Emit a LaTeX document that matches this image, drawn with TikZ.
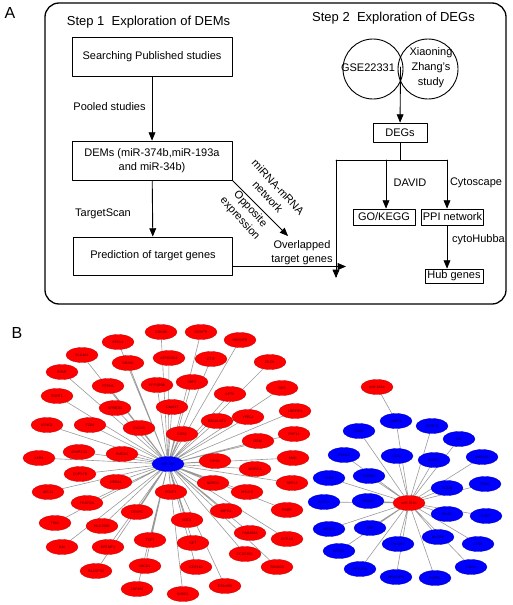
\documentclass[tikz,border=0pt]{standalone}
\usepackage{fontspec}
\setmainfont{Liberation Sans}
\usetikzlibrary{arrows,shapes.geometric}
\pgfdeclarelayer{bg}
\pgfsetlayers{bg,main}

\begin{document}
\begin{tikzpicture}[line cap=round,line join=round,>=triangle 45,x=1pt,y=-1pt,
		box/.style={draw,line width=0.9pt,align=center,font=\fontsize{11}{14}\selectfont},
		lbl/.style={align=center,font=\fontsize{11}{14}\selectfont},
		ttl/.style={font=\fontsize{13}{15}\selectfont},
		circ/.style={draw,circle,line width=0.9pt,minimum size=60pt,inner sep=0pt},
		rnode/.style={ellipse,fill=red,draw=red!75!black,line width=0.3pt,minimum width=32pt,minimum height=15pt,inner sep=0pt,font=\fontsize{3.5}{4}\selectfont,text=red!30!black},
		bnode/.style={ellipse,fill=blue,draw=blue!70!black,line width=0.3pt,minimum width=32pt,minimum height=15pt,inner sep=0pt,font=\fontsize{3.5}{4}\selectfont,text=blue!30!black},
		edge/.style={line width=0.6pt,color=gray!80}]
		\useasboundingbox (0,0) rectangle (513,605);
		\draw [line width=1.3pt,rounded corners=14pt] (45,3) rectangle (506,304);
		\node[font=\fontsize{16}{18}\selectfont] (panelA) at (10,13) {A};
		\node[font=\fontsize{16}{18}\selectfont] (panelB) at (17,333) {B};
		\node[ttl] (step1) at (148.5,22) {Step 1\ \ Exploration of DEMs};
		\node[ttl] (step2) at (393.5,18.5) {Step 2\ \ Exploration of DEGs};
		\node[box,minimum width=160pt,minimum height=39pt] (search) at (152,56.5) {Searching Published studies};
		\node[box,minimum width=160pt,minimum height=39pt] (dems) at (152,160.5) {DEMs (miR-374b,miR-193a\\and miR-34b)};
		\node[box,minimum width=159pt,minimum height=38pt] (pred) at (153,256) {Prediction of target genes};
		\node[lbl] (pooled) at (109.5,107) {Pooled studies};
		\node[lbl] (tscan) at (103,214) {TargetScan};
		\node[lbl,rotate=-47] (mirna) at (273,192) {miRNA-mRNA\\network};
		\node[lbl,rotate=-48] (oppo) at (245,214) {Opposite\\expression};
		\node[lbl] (overl) at (302,252.5) {Overlapped\\target genes};
		\coordinate (ovtip) at (288,236);
		\coordinate (predend) at (346,266.5);
		\draw[->,line width=0.9pt] (search) -- (dems);
		\draw[->,line width=0.9pt] (dems) -- (pred);
		\draw[->,line width=0.9pt] (dems.south east) -- (ovtip);
		\draw[->,line width=0.9pt] (pred.east |- predend) -- (predend);
		\node[circ] (gse) at (373,69) {};
		\node[circ] (xzs) at (428,69) {};
		\node[lbl] (gset) at (368,68) {GSE22331};
		\node[lbl,font=\fontsize{11}{15}\selectfont] (xzst) at (431,68) {Xiaoning\\Zhang's\\study};
		\coordinate (ovl) at (400.5,67);
		\node[box,minimum width=54pt,minimum height=19pt,inner sep=1pt] (degs) at (400,132.5) {DEGs};
		\node[box,minimum width=62pt,minimum height=16pt,inner sep=1pt] (gokegg) at (384,217) {GO/KEGG};
		\node[box,minimum width=61pt,minimum height=16pt,inner sep=1pt] (ppi) at (452.5,217) {PPI network};
		\node[box,minimum width=58pt,minimum height=14pt,inner sep=1pt] (hub) at (454,276) {Hub genes};
		\node[lbl] (david) at (410,183) {DAVID};
		\node[lbl] (cyto) at (476,183) {Cytoscape};
		\node[lbl] (cyhub) at (478.5,240) {cytoHubba};
		\coordinate (split) at (400,160);
		\coordinate (bl) at (336,160);
		\coordinate (bm) at (386,160);
		\coordinate (br) at (447,160);
		\coordinate (blend) at (336,278);
		\draw[->,line width=0.9pt] (ovl) -- (degs);
		\draw[line width=0.9pt] (degs) -- (split);
		\draw[line width=0.9pt] (bl) -- (br);
		\draw[->,line width=0.9pt] (bl) -- (blend);
		\draw[->,line width=0.9pt] (bm) -- (bm |- gokegg.north);
		\draw[->,line width=0.9pt] (br) -- (br |- ppi.north);
		\draw[->,line width=0.9pt] (br |- ppi.south) -- (br |- hub.north);
		\node[rnode] (gsk3b) at (161,332) {GSK3B};
		\node[rnode] (grhpr) at (201,332) {GRHPR};
		\node[rnode] (spdl1) at (118,342) {SPDL1};
		\node[rnode] (hnrnpd) at (240,340) {HNRNPD};
		\node[rnode] (slc4a4) at (82,355) {SLC4A4};
		\node[rnode] (atp6v0a1) at (169,358) {ATP6V0A1};
		\node[rnode] (snx30) at (128,363) {SNX30};
		\node[rnode] (ctif) at (211,359) {CTIF};
		\node[rnode] (glo1) at (270,362) {GLO1};
		\node[rnode] (bdnf) at (62,372) {BDNF};
		\node[rnode] (ptpn9) at (108,386) {PTPN9};
		\node[rnode] (ppp1r9b) at (157,385) {PPP1R9B};
		\node[rnode] (sbf2) at (192,382) {SBF2};
		\node[rnode] (aptx) at (230,394) {APTX};
		\node[rnode] (gk5) at (282,388) {GK5};
		\node[rnode] (sort1) at (57,396) {SORT1};
		\node[rnode] (spred1) at (115,408) {SPRED1};
		\node[rnode] (c4orf17) at (172,407) {C4orf17};
		\node[rnode] (b3galnt1) at (217,421) {B3GALNT1};
		\node[rnode] (ypel2) at (248,417) {YPEL2};
		\node[rnode] (lrrfip1) at (295,411) {LRRFIP1};
		\node[rnode] (ntng1) at (47,425) {NTNG1};
		\node[rnode] (fzd4) at (90,425) {FZD4};
		\node[rnode] (clcn3) at (139,428) {CLCN3};
		\node[rnode] (cds2) at (182,434) {CDS2};
		\node[rnode] (dgki) at (258,441) {DGKI};
		\node[rnode] (phf14) at (294,434) {PHF14};
		\node[rnode] (xkr4) at (39,458) {XKR4};
		\node[rnode] (anapc13) at (79,452) {ANAPC13};
		\node[rnode] (hmga2) at (122,454) {HMGA2};
		\node[bnode] (mir34b) at (168,464) {miR-34b};
		\node[rnode] (rps6) at (215,461) {RPS6};
		\node[rnode] (mak) at (293,458) {MAK};
		\node[rnode] (morc1) at (255,469) {MORC1};
		\node[rnode] (cops7b) at (80,474) {COPS7B};
		\node[rnode] (nr6a1) at (116,482) {NR6A1};
		\node[rnode] (ndrg1) at (213,483) {NDRG1};
		\node[rnode] (sppl3) at (292,483) {SPPL3};
		\node[rnode] (arl11) at (48,492) {ARL11};
		\node[rnode] (foxp1) at (171,492) {FOXP1};
		\node[rnode] (mylk3) at (247,492) {MYLK3};
		\node[rnode] (fcgr2a) at (87,503) {FCGR2A};
		\node[rnode] (prep) at (287,510) {PREP};
		\node[rnode] (cenpc) at (137,512) {CENPC};
		\node[rnode] (impg1) at (226,511) {IMPG1};
		\node[rnode] (trio) at (55,523) {TRIO};
		\node[rnode] (hladob) at (102,526) {HLA-DOB};
		\node[rnode] (nod1) at (187,520) {NOD1};
		\node[rnode] (fam168a) at (250,533) {FAM168A};
		\node[rnode] (dcp1a) at (287,539) {DCP1A};
		\node[rnode] (nin) at (62,547) {NIN};
		\node[rnode] (efemp1) at (108,547) {EFEMP1};
		\node[rnode] (tcf7) at (150,540) {TCF7};
		\node[rnode] (set) at (193,543) {SET};
		\node[rnode] (ccdc85c) at (245,554) {CCDC85C};
		\node[rnode] (txndc5) at (277,567) {TXNDC5};
		\node[rnode] (ralgps2) at (96,571) {RALGPS2};
		\node[rnode] (micu1) at (145,566) {MICU1};
		\node[rnode] (ccp110) at (196,567) {CCP110};
		\node[rnode] (znf480) at (137,589) {ZNF480};
		\node[rnode] (insig1) at (183,594) {INSIG1};
		\node[rnode] (c20orf96) at (225,586) {C20orf96};
		\node[rnode] (mir374b) at (409,503) {miR-374b};
		\node[rnode] (mir193a) at (377,387) {miR-193a};
		\node[bnode] (lmbr1) at (396,421) {LMBR1};
		\node[bnode] (pcbp2) at (432,426) {PCBP2};
		\node[bnode] (dab2) at (359,431) {DAB2};
		\node[bnode] (cic) at (459,439) {CIC};
		\node[bnode] (prkce) at (344,455) {PRKCE};
		\node[bnode] (acsl1) at (397,456) {ACSL1};
		\node[bnode] (znrf3) at (434,460) {ZNRF3};
		\node[bnode] (map3k2) at (482,457) {MAP3K2};
		\node[bnode] (tlr4) at (329,478) {TLR4};
		\node[bnode] (tspan5) at (369,476) {TSPAN5};
		\node[bnode] (rgmb) at (447,488) {RGMB};
		\node[bnode] (trim2) at (485,484) {TRIM2};
		\node[bnode] (actc1) at (324,502) {ACTC1};
		\node[bnode] (pank3) at (368,501) {PANK3};
		\node[bnode] (wnk1) at (447,514) {WNK1};
		\node[bnode] (il6st) at (486,516) {IL6ST};
		\node[bnode] (nr2c2) at (329,529) {NR2C2};
		\node[bnode] (srf) at (370,528) {SRF};
		\node[bnode] (mycbp) at (438,537) {MYCBP};
		\node[bnode] (dnajb9) at (398,544) {DNAJB9};
		\node[bnode] (ctsb) at (478,544) {CTSB};
		\node[bnode] (dctn1) at (339,551) {DCTN1};
		\node[bnode] (ppp2ca) at (360,569) {PPP2CA};
		\node[bnode] (arhgap5) at (396,577) {ARHGAP5};
		\node[bnode] (pappa) at (435,578) {PAPPA};
		\node[bnode] (cnn3) at (471,567) {CNN3};
		\begin{pgfonlayer}{bg}
			\draw[edge] (mir34b) -- (gsk3b) (mir34b) -- (grhpr) (mir34b) -- (spdl1) (mir34b) -- (hnrnpd)
				(mir34b) -- (slc4a4) (mir34b) -- (atp6v0a1) (mir34b) -- (snx30) (mir34b) -- (ctif)
				(mir34b) -- (glo1) (mir34b) -- (bdnf) (mir34b) -- (ptpn9) (mir34b) -- (ppp1r9b)
				(mir34b) -- (sbf2) (mir34b) -- (aptx) (mir34b) -- (gk5) (mir34b) -- (sort1)
				(mir34b) -- (spred1) (mir34b) -- (c4orf17) (mir34b) -- (b3galnt1) (mir34b) -- (ypel2)
				(mir34b) -- (lrrfip1) (mir34b) -- (ntng1) (mir34b) -- (fzd4) (mir34b) -- (clcn3)
				(mir34b) -- (cds2) (mir34b) -- (dgki) (mir34b) -- (phf14) (mir34b) -- (xkr4)
				(mir34b) -- (anapc13) (mir34b) -- (hmga2) (mir34b) -- (rps6) (mir34b) -- (mak)
				(mir34b) -- (morc1) (mir34b) -- (cops7b) (mir34b) -- (nr6a1) (mir34b) -- (ndrg1)
				(mir34b) -- (sppl3) (mir34b) -- (arl11) (mir34b) -- (foxp1) (mir34b) -- (mylk3)
				(mir34b) -- (fcgr2a) (mir34b) -- (prep) (mir34b) -- (cenpc) (mir34b) -- (impg1)
				(mir34b) -- (trio) (mir34b) -- (hladob) (mir34b) -- (nod1) (mir34b) -- (fam168a)
				(mir34b) -- (dcp1a) (mir34b) -- (nin) (mir34b) -- (efemp1) (mir34b) -- (tcf7)
				(mir34b) -- (set) (mir34b) -- (ccdc85c) (mir34b) -- (txndc5) (mir34b) -- (ralgps2)
				(mir34b) -- (micu1) (mir34b) -- (ccp110) (mir34b) -- (znf480) (mir34b) -- (insig1)
				(mir34b) -- (c20orf96);
			\draw[edge] (mir193a) -- (lmbr1);
			\draw[edge] (mir374b) -- (lmbr1) (mir374b) -- (pcbp2) (mir374b) -- (dab2) (mir374b) -- (cic)
				(mir374b) -- (prkce) (mir374b) -- (acsl1) (mir374b) -- (znrf3) (mir374b) -- (map3k2)
				(mir374b) -- (tlr4) (mir374b) -- (tspan5) (mir374b) -- (rgmb) (mir374b) -- (trim2)
				(mir374b) -- (actc1) (mir374b) -- (pank3) (mir374b) -- (wnk1) (mir374b) -- (il6st)
				(mir374b) -- (nr2c2) (mir374b) -- (srf) (mir374b) -- (mycbp) (mir374b) -- (dnajb9)
				(mir374b) -- (ctsb) (mir374b) -- (dctn1) (mir374b) -- (ppp2ca) (mir374b) -- (arhgap5)
				(mir374b) -- (pappa) (mir374b) -- (cnn3);
		\end{pgfonlayer}
	\end{tikzpicture}
\end{document}
